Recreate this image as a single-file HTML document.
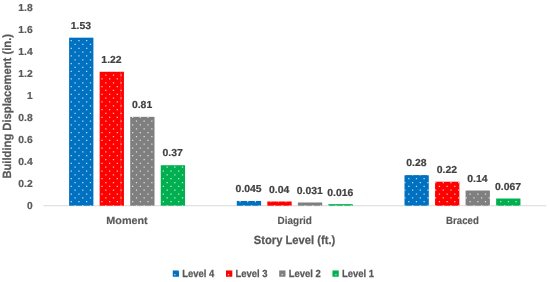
<!DOCTYPE html>
<html lang="en"><head><meta charset="utf-8"><title>Building Displacement chart</title>
<style>
html,body{margin:0;padding:0;background:#fff;}
body{width:550px;height:282px;overflow:hidden;}
svg{display:block;}
text{font-family:"Liberation Sans",sans-serif;font-weight:bold;text-rendering:geometricPrecision;}
.tick{font-size:10.1px;fill:#595959;stroke:#595959;stroke-width:.2px;}
.dl{font-size:10.1px;fill:#404040;stroke:#404040;stroke-width:.2px;}
.cat{font-size:10.5px;fill:#595959;stroke:#595959;stroke-width:.15px;}
.ttl{font-size:11.9px;fill:#595959;stroke:#595959;stroke-width:.25px;}
.leg{font-size:10.3px;fill:#595959;stroke:#595959;stroke-width:.25px;}
</style></head><body>
<svg width="550" height="282" viewBox="0 0 550 282">
<rect width="550" height="282" fill="#fff"/>
<rect x="43.3" y="205.25" width="503" height="1" fill="#D9D9D9"/>
<text class="tick" x="27.02" y="209.00" textLength="5.68" lengthAdjust="spacingAndGlyphs">0</text>
<text class="tick" x="18.36" y="187.00" textLength="14.34" lengthAdjust="spacingAndGlyphs">0.2</text>
<text class="tick" x="18.36" y="165.00" textLength="14.34" lengthAdjust="spacingAndGlyphs">0.4</text>
<text class="tick" x="18.36" y="143.00" textLength="14.34" lengthAdjust="spacingAndGlyphs">0.6</text>
<text class="tick" x="18.36" y="121.00" textLength="14.34" lengthAdjust="spacingAndGlyphs">0.8</text>
<text class="tick" x="27.02" y="99.00" textLength="5.68" lengthAdjust="spacingAndGlyphs">1</text>
<text class="tick" x="18.36" y="77.00" textLength="14.34" lengthAdjust="spacingAndGlyphs">1.2</text>
<text class="tick" x="18.36" y="55.00" textLength="14.34" lengthAdjust="spacingAndGlyphs">1.4</text>
<text class="tick" x="18.36" y="33.00" textLength="14.34" lengthAdjust="spacingAndGlyphs">1.6</text>
<text class="tick" x="18.36" y="11.00" textLength="14.34" lengthAdjust="spacingAndGlyphs">1.8</text>
<rect x="69.10" y="37.68" width="24.3" height="168.02" fill="#0070C0"/>
<path d="M70.67 40.00h1.25v1.25h-1.25zM70.67 47.67h1.25v1.25h-1.25zM70.67 55.34h1.25v1.25h-1.25zM70.67 63.01h1.25v1.25h-1.25zM70.67 70.69h1.25v1.25h-1.25zM70.67 78.35h1.25v1.25h-1.25zM70.67 86.02h1.25v1.25h-1.25zM70.67 93.69h1.25v1.25h-1.25zM70.67 101.36h1.25v1.25h-1.25zM70.67 109.03h1.25v1.25h-1.25zM70.67 116.70h1.25v1.25h-1.25zM70.67 124.37h1.25v1.25h-1.25zM70.67 132.04h1.25v1.25h-1.25zM70.67 139.71h1.25v1.25h-1.25zM70.67 147.38h1.25v1.25h-1.25zM70.67 155.06h1.25v1.25h-1.25zM70.67 162.72h1.25v1.25h-1.25zM70.67 170.39h1.25v1.25h-1.25zM70.67 178.06h1.25v1.25h-1.25zM70.67 185.73h1.25v1.25h-1.25zM70.67 193.41h1.25v1.25h-1.25zM70.67 201.07h1.25v1.25h-1.25zM78.34 40.00h1.25v1.25h-1.25zM78.34 47.67h1.25v1.25h-1.25zM78.34 55.34h1.25v1.25h-1.25zM78.34 63.01h1.25v1.25h-1.25zM78.34 70.69h1.25v1.25h-1.25zM78.34 78.35h1.25v1.25h-1.25zM78.34 86.02h1.25v1.25h-1.25zM78.34 93.69h1.25v1.25h-1.25zM78.34 101.36h1.25v1.25h-1.25zM78.34 109.03h1.25v1.25h-1.25zM78.34 116.70h1.25v1.25h-1.25zM78.34 124.37h1.25v1.25h-1.25zM78.34 132.04h1.25v1.25h-1.25zM78.34 139.71h1.25v1.25h-1.25zM78.34 147.38h1.25v1.25h-1.25zM78.34 155.06h1.25v1.25h-1.25zM78.34 162.72h1.25v1.25h-1.25zM78.34 170.39h1.25v1.25h-1.25zM78.34 178.06h1.25v1.25h-1.25zM78.34 185.73h1.25v1.25h-1.25zM78.34 193.41h1.25v1.25h-1.25zM78.34 201.07h1.25v1.25h-1.25zM86.02 40.00h1.25v1.25h-1.25zM86.02 47.67h1.25v1.25h-1.25zM86.02 55.34h1.25v1.25h-1.25zM86.02 63.01h1.25v1.25h-1.25zM86.02 70.69h1.25v1.25h-1.25zM86.02 78.35h1.25v1.25h-1.25zM86.02 86.02h1.25v1.25h-1.25zM86.02 93.69h1.25v1.25h-1.25zM86.02 101.36h1.25v1.25h-1.25zM86.02 109.03h1.25v1.25h-1.25zM86.02 116.70h1.25v1.25h-1.25zM86.02 124.37h1.25v1.25h-1.25zM86.02 132.04h1.25v1.25h-1.25zM86.02 139.71h1.25v1.25h-1.25zM86.02 147.38h1.25v1.25h-1.25zM86.02 155.06h1.25v1.25h-1.25zM86.02 162.72h1.25v1.25h-1.25zM86.02 170.39h1.25v1.25h-1.25zM86.02 178.06h1.25v1.25h-1.25zM86.02 185.73h1.25v1.25h-1.25zM86.02 193.41h1.25v1.25h-1.25zM86.02 201.07h1.25v1.25h-1.25zM74.51 43.84h1.25v1.25h-1.25zM74.51 51.51h1.25v1.25h-1.25zM74.51 59.18h1.25v1.25h-1.25zM74.51 66.85h1.25v1.25h-1.25zM74.51 74.52h1.25v1.25h-1.25zM74.51 82.19h1.25v1.25h-1.25zM74.51 89.86h1.25v1.25h-1.25zM74.51 97.53h1.25v1.25h-1.25zM74.51 105.20h1.25v1.25h-1.25zM74.51 112.87h1.25v1.25h-1.25zM74.51 120.54h1.25v1.25h-1.25zM74.51 128.21h1.25v1.25h-1.25zM74.51 135.88h1.25v1.25h-1.25zM74.51 143.55h1.25v1.25h-1.25zM74.51 151.22h1.25v1.25h-1.25zM74.51 158.89h1.25v1.25h-1.25zM74.51 166.56h1.25v1.25h-1.25zM74.51 174.23h1.25v1.25h-1.25zM74.51 181.90h1.25v1.25h-1.25zM74.51 189.57h1.25v1.25h-1.25zM74.51 197.24h1.25v1.25h-1.25zM74.51 204.91h1.25v0.79h-1.25zM82.18 43.84h1.25v1.25h-1.25zM82.18 51.51h1.25v1.25h-1.25zM82.18 59.18h1.25v1.25h-1.25zM82.18 66.85h1.25v1.25h-1.25zM82.18 74.52h1.25v1.25h-1.25zM82.18 82.19h1.25v1.25h-1.25zM82.18 89.86h1.25v1.25h-1.25zM82.18 97.53h1.25v1.25h-1.25zM82.18 105.20h1.25v1.25h-1.25zM82.18 112.87h1.25v1.25h-1.25zM82.18 120.54h1.25v1.25h-1.25zM82.18 128.21h1.25v1.25h-1.25zM82.18 135.88h1.25v1.25h-1.25zM82.18 143.55h1.25v1.25h-1.25zM82.18 151.22h1.25v1.25h-1.25zM82.18 158.89h1.25v1.25h-1.25zM82.18 166.56h1.25v1.25h-1.25zM82.18 174.23h1.25v1.25h-1.25zM82.18 181.90h1.25v1.25h-1.25zM82.18 189.57h1.25v1.25h-1.25zM82.18 197.24h1.25v1.25h-1.25zM82.18 204.91h1.25v0.79h-1.25zM89.85 43.84h1.25v1.25h-1.25zM89.85 51.51h1.25v1.25h-1.25zM89.85 59.18h1.25v1.25h-1.25zM89.85 66.85h1.25v1.25h-1.25zM89.85 74.52h1.25v1.25h-1.25zM89.85 82.19h1.25v1.25h-1.25zM89.85 89.86h1.25v1.25h-1.25zM89.85 97.53h1.25v1.25h-1.25zM89.85 105.20h1.25v1.25h-1.25zM89.85 112.87h1.25v1.25h-1.25zM89.85 120.54h1.25v1.25h-1.25zM89.85 128.21h1.25v1.25h-1.25zM89.85 135.88h1.25v1.25h-1.25zM89.85 143.55h1.25v1.25h-1.25zM89.85 151.22h1.25v1.25h-1.25zM89.85 158.89h1.25v1.25h-1.25zM89.85 166.56h1.25v1.25h-1.25zM89.85 174.23h1.25v1.25h-1.25zM89.85 181.90h1.25v1.25h-1.25zM89.85 189.57h1.25v1.25h-1.25zM89.85 197.24h1.25v1.25h-1.25zM89.85 204.91h1.25v0.79h-1.25z" fill="#fff" fill-opacity="0.74"/>
<text class="dl" x="70.81" y="29.00" textLength="20.29" lengthAdjust="spacingAndGlyphs">1.53</text>
<rect x="99.65" y="71.76" width="24.3" height="133.94" fill="#FF0000"/>
<path d="M101.35 71.76h1.25v0.17h-1.25zM101.35 78.35h1.25v1.25h-1.25zM101.35 86.02h1.25v1.25h-1.25zM101.35 93.69h1.25v1.25h-1.25zM101.35 101.36h1.25v1.25h-1.25zM101.35 109.03h1.25v1.25h-1.25zM101.35 116.70h1.25v1.25h-1.25zM101.35 124.37h1.25v1.25h-1.25zM101.35 132.04h1.25v1.25h-1.25zM101.35 139.71h1.25v1.25h-1.25zM101.35 147.38h1.25v1.25h-1.25zM101.35 155.06h1.25v1.25h-1.25zM101.35 162.72h1.25v1.25h-1.25zM101.35 170.39h1.25v1.25h-1.25zM101.35 178.06h1.25v1.25h-1.25zM101.35 185.73h1.25v1.25h-1.25zM101.35 193.41h1.25v1.25h-1.25zM101.35 201.07h1.25v1.25h-1.25zM109.03 71.76h1.25v0.17h-1.25zM109.03 78.35h1.25v1.25h-1.25zM109.03 86.02h1.25v1.25h-1.25zM109.03 93.69h1.25v1.25h-1.25zM109.03 101.36h1.25v1.25h-1.25zM109.03 109.03h1.25v1.25h-1.25zM109.03 116.70h1.25v1.25h-1.25zM109.03 124.37h1.25v1.25h-1.25zM109.03 132.04h1.25v1.25h-1.25zM109.03 139.71h1.25v1.25h-1.25zM109.03 147.38h1.25v1.25h-1.25zM109.03 155.06h1.25v1.25h-1.25zM109.03 162.72h1.25v1.25h-1.25zM109.03 170.39h1.25v1.25h-1.25zM109.03 178.06h1.25v1.25h-1.25zM109.03 185.73h1.25v1.25h-1.25zM109.03 193.41h1.25v1.25h-1.25zM109.03 201.07h1.25v1.25h-1.25zM116.69 71.76h1.25v0.17h-1.25zM116.69 78.35h1.25v1.25h-1.25zM116.69 86.02h1.25v1.25h-1.25zM116.69 93.69h1.25v1.25h-1.25zM116.69 101.36h1.25v1.25h-1.25zM116.69 109.03h1.25v1.25h-1.25zM116.69 116.70h1.25v1.25h-1.25zM116.69 124.37h1.25v1.25h-1.25zM116.69 132.04h1.25v1.25h-1.25zM116.69 139.71h1.25v1.25h-1.25zM116.69 147.38h1.25v1.25h-1.25zM116.69 155.06h1.25v1.25h-1.25zM116.69 162.72h1.25v1.25h-1.25zM116.69 170.39h1.25v1.25h-1.25zM116.69 178.06h1.25v1.25h-1.25zM116.69 185.73h1.25v1.25h-1.25zM116.69 193.41h1.25v1.25h-1.25zM116.69 201.07h1.25v1.25h-1.25zM105.19 74.52h1.25v1.25h-1.25zM105.19 82.19h1.25v1.25h-1.25zM105.19 89.86h1.25v1.25h-1.25zM105.19 97.53h1.25v1.25h-1.25zM105.19 105.20h1.25v1.25h-1.25zM105.19 112.87h1.25v1.25h-1.25zM105.19 120.54h1.25v1.25h-1.25zM105.19 128.21h1.25v1.25h-1.25zM105.19 135.88h1.25v1.25h-1.25zM105.19 143.55h1.25v1.25h-1.25zM105.19 151.22h1.25v1.25h-1.25zM105.19 158.89h1.25v1.25h-1.25zM105.19 166.56h1.25v1.25h-1.25zM105.19 174.23h1.25v1.25h-1.25zM105.19 181.90h1.25v1.25h-1.25zM105.19 189.57h1.25v1.25h-1.25zM105.19 197.24h1.25v1.25h-1.25zM105.19 204.91h1.25v0.79h-1.25zM112.86 74.52h1.25v1.25h-1.25zM112.86 82.19h1.25v1.25h-1.25zM112.86 89.86h1.25v1.25h-1.25zM112.86 97.53h1.25v1.25h-1.25zM112.86 105.20h1.25v1.25h-1.25zM112.86 112.87h1.25v1.25h-1.25zM112.86 120.54h1.25v1.25h-1.25zM112.86 128.21h1.25v1.25h-1.25zM112.86 135.88h1.25v1.25h-1.25zM112.86 143.55h1.25v1.25h-1.25zM112.86 151.22h1.25v1.25h-1.25zM112.86 158.89h1.25v1.25h-1.25zM112.86 166.56h1.25v1.25h-1.25zM112.86 174.23h1.25v1.25h-1.25zM112.86 181.90h1.25v1.25h-1.25zM112.86 189.57h1.25v1.25h-1.25zM112.86 197.24h1.25v1.25h-1.25zM112.86 204.91h1.25v0.79h-1.25zM120.53 74.52h1.25v1.25h-1.25zM120.53 82.19h1.25v1.25h-1.25zM120.53 89.86h1.25v1.25h-1.25zM120.53 97.53h1.25v1.25h-1.25zM120.53 105.20h1.25v1.25h-1.25zM120.53 112.87h1.25v1.25h-1.25zM120.53 120.54h1.25v1.25h-1.25zM120.53 128.21h1.25v1.25h-1.25zM120.53 135.88h1.25v1.25h-1.25zM120.53 143.55h1.25v1.25h-1.25zM120.53 151.22h1.25v1.25h-1.25zM120.53 158.89h1.25v1.25h-1.25zM120.53 166.56h1.25v1.25h-1.25zM120.53 174.23h1.25v1.25h-1.25zM120.53 181.90h1.25v1.25h-1.25zM120.53 189.57h1.25v1.25h-1.25zM120.53 197.24h1.25v1.25h-1.25zM120.53 204.91h1.25v0.79h-1.25z" fill="#fff" fill-opacity="0.74"/>
<rect x="120.15" y="71.76" width="1.3" height="134.14" fill="#fff" fill-opacity="0.13"/>
<text class="dl" x="101.36" y="63.00" textLength="20.29" lengthAdjust="spacingAndGlyphs">1.22</text>
<rect x="130.20" y="116.84" width="24.3" height="88.86" fill="#7F7F7F"/>
<path d="M132.03 116.84h1.25v1.11h-1.25zM132.03 124.37h1.25v1.25h-1.25zM132.03 132.04h1.25v1.25h-1.25zM132.03 139.71h1.25v1.25h-1.25zM132.03 147.38h1.25v1.25h-1.25zM132.03 155.06h1.25v1.25h-1.25zM132.03 162.72h1.25v1.25h-1.25zM132.03 170.39h1.25v1.25h-1.25zM132.03 178.06h1.25v1.25h-1.25zM132.03 185.73h1.25v1.25h-1.25zM132.03 193.41h1.25v1.25h-1.25zM132.03 201.07h1.25v1.25h-1.25zM139.70 116.84h1.25v1.11h-1.25zM139.70 124.37h1.25v1.25h-1.25zM139.70 132.04h1.25v1.25h-1.25zM139.70 139.71h1.25v1.25h-1.25zM139.70 147.38h1.25v1.25h-1.25zM139.70 155.06h1.25v1.25h-1.25zM139.70 162.72h1.25v1.25h-1.25zM139.70 170.39h1.25v1.25h-1.25zM139.70 178.06h1.25v1.25h-1.25zM139.70 185.73h1.25v1.25h-1.25zM139.70 193.41h1.25v1.25h-1.25zM139.70 201.07h1.25v1.25h-1.25zM147.38 116.84h1.25v1.11h-1.25zM147.38 124.37h1.25v1.25h-1.25zM147.38 132.04h1.25v1.25h-1.25zM147.38 139.71h1.25v1.25h-1.25zM147.38 147.38h1.25v1.25h-1.25zM147.38 155.06h1.25v1.25h-1.25zM147.38 162.72h1.25v1.25h-1.25zM147.38 170.39h1.25v1.25h-1.25zM147.38 178.06h1.25v1.25h-1.25zM147.38 185.73h1.25v1.25h-1.25zM147.38 193.41h1.25v1.25h-1.25zM147.38 201.07h1.25v1.25h-1.25zM135.87 120.54h1.25v1.25h-1.25zM135.87 128.21h1.25v1.25h-1.25zM135.87 135.88h1.25v1.25h-1.25zM135.87 143.55h1.25v1.25h-1.25zM135.87 151.22h1.25v1.25h-1.25zM135.87 158.89h1.25v1.25h-1.25zM135.87 166.56h1.25v1.25h-1.25zM135.87 174.23h1.25v1.25h-1.25zM135.87 181.90h1.25v1.25h-1.25zM135.87 189.57h1.25v1.25h-1.25zM135.87 197.24h1.25v1.25h-1.25zM135.87 204.91h1.25v0.79h-1.25zM143.54 120.54h1.25v1.25h-1.25zM143.54 128.21h1.25v1.25h-1.25zM143.54 135.88h1.25v1.25h-1.25zM143.54 143.55h1.25v1.25h-1.25zM143.54 151.22h1.25v1.25h-1.25zM143.54 158.89h1.25v1.25h-1.25zM143.54 166.56h1.25v1.25h-1.25zM143.54 174.23h1.25v1.25h-1.25zM143.54 181.90h1.25v1.25h-1.25zM143.54 189.57h1.25v1.25h-1.25zM143.54 197.24h1.25v1.25h-1.25zM143.54 204.91h1.25v0.79h-1.25zM151.21 120.54h1.25v1.25h-1.25zM151.21 128.21h1.25v1.25h-1.25zM151.21 135.88h1.25v1.25h-1.25zM151.21 143.55h1.25v1.25h-1.25zM151.21 151.22h1.25v1.25h-1.25zM151.21 158.89h1.25v1.25h-1.25zM151.21 166.56h1.25v1.25h-1.25zM151.21 174.23h1.25v1.25h-1.25zM151.21 181.90h1.25v1.25h-1.25zM151.21 189.57h1.25v1.25h-1.25zM151.21 197.24h1.25v1.25h-1.25zM151.21 204.91h1.25v0.79h-1.25z" fill="#fff" fill-opacity="0.74"/>
<text class="dl" x="131.91" y="108.00" textLength="20.29" lengthAdjust="spacingAndGlyphs">0.81</text>
<rect x="160.75" y="165.22" width="24.3" height="40.48" fill="#00B050"/>
<path d="M162.71 170.39h1.25v1.25h-1.25zM162.71 178.06h1.25v1.25h-1.25zM162.71 185.73h1.25v1.25h-1.25zM162.71 193.41h1.25v1.25h-1.25zM162.71 201.07h1.25v1.25h-1.25zM170.38 170.39h1.25v1.25h-1.25zM170.38 178.06h1.25v1.25h-1.25zM170.38 185.73h1.25v1.25h-1.25zM170.38 193.41h1.25v1.25h-1.25zM170.38 201.07h1.25v1.25h-1.25zM178.06 170.39h1.25v1.25h-1.25zM178.06 178.06h1.25v1.25h-1.25zM178.06 185.73h1.25v1.25h-1.25zM178.06 193.41h1.25v1.25h-1.25zM178.06 201.07h1.25v1.25h-1.25zM166.55 166.56h1.25v1.25h-1.25zM166.55 174.23h1.25v1.25h-1.25zM166.55 181.90h1.25v1.25h-1.25zM166.55 189.57h1.25v1.25h-1.25zM166.55 197.24h1.25v1.25h-1.25zM166.55 204.91h1.25v0.79h-1.25zM174.22 166.56h1.25v1.25h-1.25zM174.22 174.23h1.25v1.25h-1.25zM174.22 181.90h1.25v1.25h-1.25zM174.22 189.57h1.25v1.25h-1.25zM174.22 197.24h1.25v1.25h-1.25zM174.22 204.91h1.25v0.79h-1.25zM181.89 166.56h1.25v1.25h-1.25zM181.89 174.23h1.25v1.25h-1.25zM181.89 181.90h1.25v1.25h-1.25zM181.89 189.57h1.25v1.25h-1.25zM181.89 197.24h1.25v1.25h-1.25zM181.89 204.91h1.25v0.79h-1.25z" fill="#fff" fill-opacity="0.74"/>
<text class="dl" x="162.46" y="156.00" textLength="20.29" lengthAdjust="spacingAndGlyphs">0.37</text>
<text class="cat" x="106.31" y="224.30" textLength="41.43" lengthAdjust="spacingAndGlyphs">Moment</text>
<rect x="236.80" y="200.95" width="24.3" height="4.75" fill="#0070C0"/>
<path d="M239.42 201.07h1.25v1.25h-1.25zM247.08 201.07h1.25v1.25h-1.25zM254.75 201.07h1.25v1.25h-1.25zM243.25 204.91h1.25v0.79h-1.25zM250.92 204.91h1.25v0.79h-1.25zM258.59 204.91h1.25v0.79h-1.25z" fill="#fff" fill-opacity="0.74"/>
<text class="dl" x="235.63" y="192.00" textLength="26.04" lengthAdjust="spacingAndGlyphs">0.045</text>
<rect x="267.35" y="201.50" width="24.3" height="4.20" fill="#FF0000"/>
<path d="M270.09 201.50h1.25v0.82h-1.25zM277.76 201.50h1.25v0.82h-1.25zM285.44 201.50h1.25v0.82h-1.25zM267.35 204.91h0.16v0.79h-0.16zM273.93 204.91h1.25v0.79h-1.25zM281.60 204.91h1.25v0.79h-1.25zM289.27 204.91h1.25v0.79h-1.25z" fill="#fff" fill-opacity="0.74"/>
<text class="dl" x="269.06" y="193.00" textLength="20.29" lengthAdjust="spacingAndGlyphs">0.04</text>
<rect x="297.90" y="202.49" width="24.3" height="3.21" fill="#7F7F7F"/>
<path d="M297.90 204.91h0.29v0.79h-0.29zM304.61 204.91h1.25v0.79h-1.25zM312.28 204.91h1.25v0.79h-1.25zM319.95 204.91h1.25v0.79h-1.25z" fill="#fff" fill-opacity="0.74"/>
<text class="dl" x="296.73" y="194.00" textLength="26.04" lengthAdjust="spacingAndGlyphs">0.031</text>
<rect x="328.45" y="204.14" width="24.3" height="1.56" fill="#00B050"/>
<path d="M328.45 204.91h0.42v0.79h-0.42zM335.29 204.91h1.25v0.79h-1.25zM342.96 204.91h1.25v0.79h-1.25zM350.63 204.91h1.25v0.79h-1.25z" fill="#fff" fill-opacity="0.74"/>
<text class="dl" x="327.28" y="196.00" textLength="26.04" lengthAdjust="spacingAndGlyphs">0.016</text>
<text class="cat" x="277.58" y="224.30" textLength="34.29" lengthAdjust="spacingAndGlyphs">Diagrid</text>
<rect x="404.50" y="175.11" width="24.3" height="30.59" fill="#0070C0"/>
<path d="M408.16 178.06h1.25v1.25h-1.25zM408.16 185.73h1.25v1.25h-1.25zM408.16 193.41h1.25v1.25h-1.25zM408.16 201.07h1.25v1.25h-1.25zM415.82 178.06h1.25v1.25h-1.25zM415.82 185.73h1.25v1.25h-1.25zM415.82 193.41h1.25v1.25h-1.25zM415.82 201.07h1.25v1.25h-1.25zM423.50 178.06h1.25v1.25h-1.25zM423.50 185.73h1.25v1.25h-1.25zM423.50 193.41h1.25v1.25h-1.25zM423.50 201.07h1.25v1.25h-1.25zM404.50 175.11h1.07v0.37h-1.07zM404.50 181.90h1.07v1.25h-1.07zM404.50 189.57h1.07v1.25h-1.07zM404.50 197.24h1.07v1.25h-1.07zM404.50 204.91h1.07v0.79h-1.07zM411.99 175.11h1.25v0.37h-1.25zM411.99 181.90h1.25v1.25h-1.25zM411.99 189.57h1.25v1.25h-1.25zM411.99 197.24h1.25v1.25h-1.25zM411.99 204.91h1.25v0.79h-1.25zM419.66 175.11h1.25v0.37h-1.25zM419.66 181.90h1.25v1.25h-1.25zM419.66 189.57h1.25v1.25h-1.25zM419.66 197.24h1.25v1.25h-1.25zM419.66 204.91h1.25v0.79h-1.25zM427.33 175.11h1.25v0.37h-1.25zM427.33 181.90h1.25v1.25h-1.25zM427.33 189.57h1.25v1.25h-1.25zM427.33 197.24h1.25v1.25h-1.25zM427.33 204.91h1.25v0.79h-1.25z" fill="#fff" fill-opacity="0.74"/>
<text class="dl" x="406.21" y="166.00" textLength="20.29" lengthAdjust="spacingAndGlyphs">0.28</text>
<rect x="435.05" y="181.71" width="24.3" height="23.99" fill="#FF0000"/>
<path d="M438.83 185.73h1.25v1.25h-1.25zM438.83 193.41h1.25v1.25h-1.25zM438.83 201.07h1.25v1.25h-1.25zM446.50 185.73h1.25v1.25h-1.25zM446.50 193.41h1.25v1.25h-1.25zM446.50 201.07h1.25v1.25h-1.25zM454.18 185.73h1.25v1.25h-1.25zM454.18 193.41h1.25v1.25h-1.25zM454.18 201.07h1.25v1.25h-1.25zM435.05 181.90h1.20v1.25h-1.20zM435.05 189.57h1.20v1.25h-1.20zM435.05 197.24h1.20v1.25h-1.20zM435.05 204.91h1.20v0.79h-1.20zM442.67 181.90h1.25v1.25h-1.25zM442.67 189.57h1.25v1.25h-1.25zM442.67 197.24h1.25v1.25h-1.25zM442.67 204.91h1.25v0.79h-1.25zM450.34 181.90h1.25v1.25h-1.25zM450.34 189.57h1.25v1.25h-1.25zM450.34 197.24h1.25v1.25h-1.25zM450.34 204.91h1.25v0.79h-1.25zM458.01 181.90h1.25v1.25h-1.25zM458.01 189.57h1.25v1.25h-1.25zM458.01 197.24h1.25v1.25h-1.25zM458.01 204.91h1.25v0.79h-1.25z" fill="#fff" fill-opacity="0.74"/>
<text class="dl" x="436.76" y="173.00" textLength="20.29" lengthAdjust="spacingAndGlyphs">0.22</text>
<rect x="465.60" y="190.51" width="24.3" height="15.19" fill="#7F7F7F"/>
<path d="M469.51 193.41h1.25v1.25h-1.25zM469.51 201.07h1.25v1.25h-1.25zM477.19 193.41h1.25v1.25h-1.25zM477.19 201.07h1.25v1.25h-1.25zM484.86 193.41h1.25v1.25h-1.25zM484.86 201.07h1.25v1.25h-1.25zM465.68 190.51h1.25v0.31h-1.25zM465.68 197.24h1.25v1.25h-1.25zM465.68 204.91h1.25v0.79h-1.25zM473.35 190.51h1.25v0.31h-1.25zM473.35 197.24h1.25v1.25h-1.25zM473.35 204.91h1.25v0.79h-1.25zM481.02 190.51h1.25v0.31h-1.25zM481.02 197.24h1.25v1.25h-1.25zM481.02 204.91h1.25v0.79h-1.25zM488.69 190.51h1.21v0.31h-1.21zM488.69 197.24h1.21v1.25h-1.21zM488.69 204.91h1.21v0.79h-1.21z" fill="#fff" fill-opacity="0.74"/>
<text class="dl" x="467.31" y="182.00" textLength="20.29" lengthAdjust="spacingAndGlyphs">0.14</text>
<rect x="496.15" y="198.53" width="24.3" height="7.17" fill="#00B050"/>
<path d="M500.19 201.07h1.25v1.25h-1.25zM507.87 201.07h1.25v1.25h-1.25zM515.53 201.07h1.25v1.25h-1.25zM496.36 204.91h1.25v0.79h-1.25zM504.03 204.91h1.25v0.79h-1.25zM511.70 204.91h1.25v0.79h-1.25zM519.37 204.91h1.08v0.79h-1.08z" fill="#fff" fill-opacity="0.74"/>
<text class="dl" x="494.98" y="190.00" textLength="26.04" lengthAdjust="spacingAndGlyphs">0.067</text>
<text class="cat" x="446.06" y="224.30" textLength="32.73" lengthAdjust="spacingAndGlyphs">Braced</text>
<text class="ttl" x="253.75" y="244.00" textLength="81.49" lengthAdjust="spacingAndGlyphs">Story Level (ft.)</text>
<text class="ttl" transform="translate(10.7,178.62) rotate(-90)" textLength="144.65" lengthAdjust="spacingAndGlyphs">Building Displacement (in.)</text>
<rect x="172.75" y="270.45" width="6.3" height="6.3" fill="#0070C0"/>
<path d="M178.06 270.45h1.00v0.91h-1.00zM174.22 273.94h1.25v1.25h-1.25z" fill="#fff" fill-opacity="0.74"/>
<text class="leg" x="182.25" y="276.70" textLength="32.11" lengthAdjust="spacingAndGlyphs">Level 4</text>
<rect x="226.0" y="270.45" width="6.3" height="6.3" fill="#FF0000"/>
<path d="M231.75 270.45h0.56v0.91h-0.56zM227.91 273.94h1.25v1.25h-1.25z" fill="#fff" fill-opacity="0.74"/>
<text class="leg" x="235.50" y="276.70" textLength="32.11" lengthAdjust="spacingAndGlyphs">Level 3</text>
<rect x="279.2" y="270.45" width="6.3" height="6.3" fill="#7F7F7F"/>
<path d="M285.44 270.45h0.06v0.91h-0.06zM281.60 273.94h1.25v1.25h-1.25z" fill="#fff" fill-opacity="0.74"/>
<text class="leg" x="288.70" y="276.70" textLength="32.11" lengthAdjust="spacingAndGlyphs">Level 2</text>
<rect x="332.45" y="270.45" width="6.3" height="6.3" fill="#00B050"/>
<path d="M332.45 270.45h0.25v0.91h-0.25zM335.29 273.94h1.25v1.25h-1.25z" fill="#fff" fill-opacity="0.74"/>
<text class="leg" x="341.95" y="276.70" textLength="32.11" lengthAdjust="spacingAndGlyphs">Level 1</text>
</svg>
</body></html>
